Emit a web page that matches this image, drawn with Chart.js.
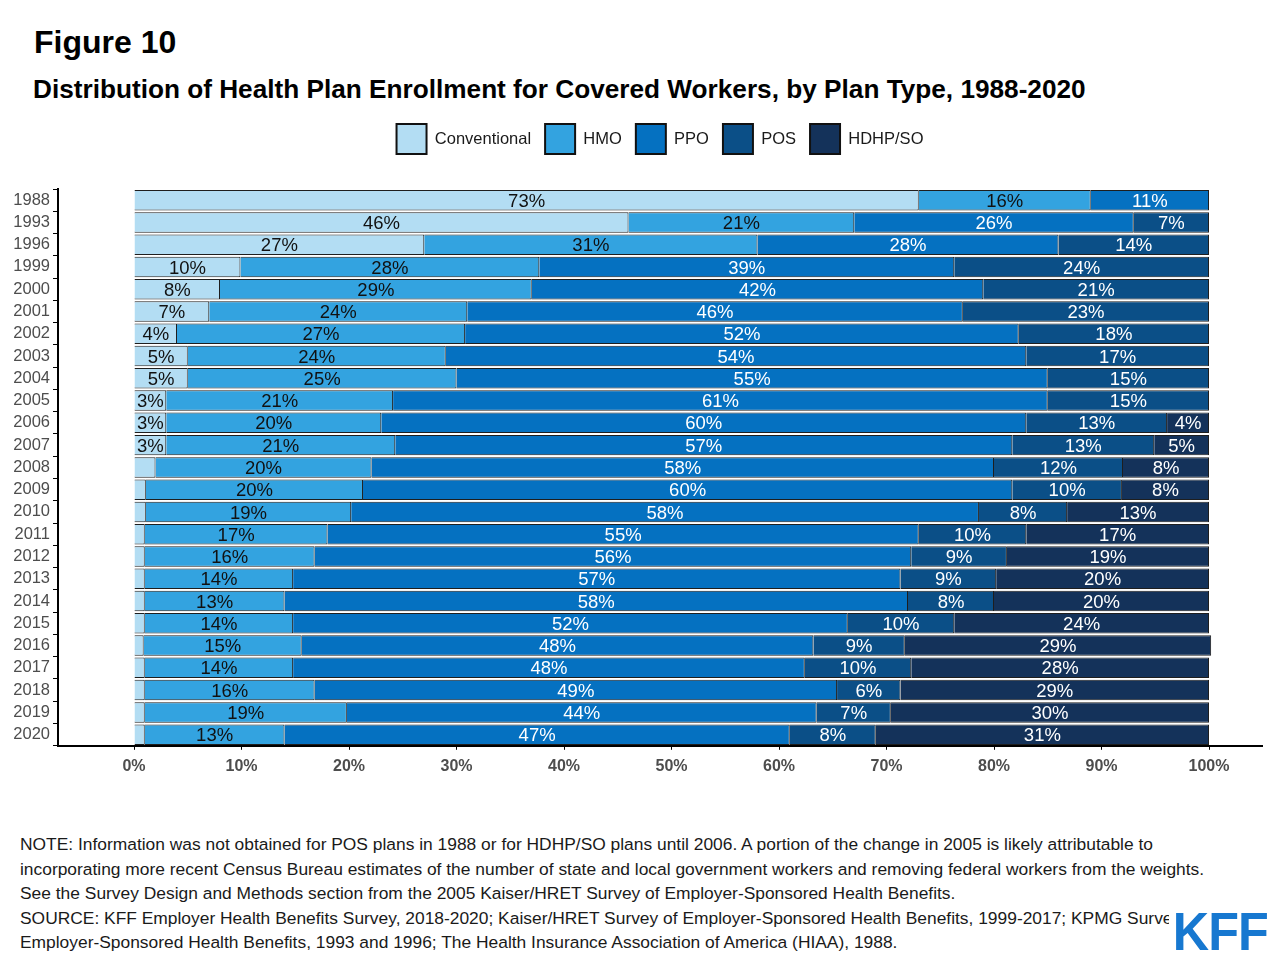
<!DOCTYPE html>
<html>
<head>
<meta charset="utf-8">
<script src="https://cdn.jsdelivr.net/npm/chart.js@4"></script>
<style>
  body { margin: 0; background: #fff; font-family: "Liberation Sans", Arial, sans-serif; }
  .page { position: relative; width: 1280px; height: 960px; overflow: hidden; }
  .fig { position: absolute; left: 34px; top: 24px; font-size: 32px; font-weight: bold; color: #000; }
  .sub { position: absolute; left: 33px; top: 74px; font-size: 26.2px; font-weight: bold; color: #000; }
  .chartBox { position: absolute; left: 0; top: 0; width: 1280px; height: 800px; }
  .note { position: absolute; left: 20px; top: 832px; font-size: 17.4px; line-height: 24.6px; color: #1a1a1a; white-space: nowrap; }
  .logo { position: absolute; left: 1169px; top: 905px; background: #fff; padding: 0 4px 6px 4px; font-family: "Liberation Sans", Arial, sans-serif; font-weight: bold; font-size: 53px; line-height: 53px; color: #1778d0; letter-spacing: -1px; transform: scaleX(0.95); transform-origin: left top; }
</style>
</head>
<body>
<div class="page">
  <div class="fig">Figure 10</div>
  <div class="sub">Distribution of Health Plan Enrollment for Covered Workers, by Plan Type, 1988-2020</div>
  <div class="chartBox"><canvas class="jsPlanChart"></canvas></div>
  <div class="note">
    NOTE: Information was not obtained for POS plans in 1988 or for HDHP/SO plans until 2006. A portion of the change in 2005 is likely attributable to<br>
    incorporating more recent Census Bureau estimates of the number of state and local government workers and removing federal workers from the weights.<br>
    See the Survey Design and Methods section from the 2005 Kaiser/HRET Survey of Employer-Sponsored Health Benefits.<br>
    SOURCE: KFF Employer Health Benefits Survey, 2018-2020; Kaiser/HRET Survey of Employer-Sponsored Health Benefits, 1999-2017; KPMG Survey of<br>
    Employer-Sponsored Health Benefits, 1993 and 1996; The Health Insurance Association of America (HIAA), 1988.
  </div>
  <div class="logo">KFF</div>
</div>
<script>
'use strict';

let years = ['1988', '1993', '1996', '1999', '2000', '2001', '2002', '2003', '2004', '2005', '2006', '2007', '2008',
  '2009', '2010', '2011', '2012', '2013', '2014', '2015', '2016', '2017', '2018', '2019', '2020'];

let conventional = [73, 46, 27, 9.9, 8, 7, 4, 5, 5, 3, 3, 3, 2, 1.1, 1.1, 1, 1, 1, 1, 1, 0.9, 1, 1, 1, 1];
let hmo = [16, 21, 31, 27.8, 29, 24, 26.8, 24, 25, 21.1, 20, 21.3, 20.1, 20.2, 19.1, 17, 15.8, 13.8, 13, 13.8, 14.7, 13.8, 15.8, 18.8, 13];
let ppo = [11, 26, 28, 38.6, 42, 46.1, 51.5, 54, 55, 60.9, 60, 57.4, 57.9, 60.4, 58.4, 55, 55.5, 56.5, 58, 51.6, 47.6, 47.6, 48.6, 43.7, 47];
let pos = [0, 7, 14, 23.7, 21, 22.9, 17.7, 17, 15, 15, 13.1, 13.2, 12, 10.2, 8.2, 10, 8.9, 8.9, 8, 9.9, 8.5, 9.9, 5.9, 6.9, 8];
let hdhp = [0, 0, 0, 0, 0, 0, 0, 0, 0, 0, 3.9, 5.1, 8, 8.1, 13.2, 17, 18.8, 19.8, 20, 23.7, 28.5, 27.7, 28.7, 29.6, 31];

let planNames = ['Conventional', 'HMO', 'PPO', 'POS', 'HDHP/SO'];
let planColors = ['#b3ddf3', '#33a3e0', '#0571c1', '#0b4f87', '#14325a'];
let labelColors = ['#111', '#111', '#fff', '#fff', '#fff'];
let xTicks = [0, 10, 20, 30, 40, 50, 60, 70, 80, 90, 100];

let segmentLabels = {
  id: 'segmentLabels',
  afterDatasetsDraw(chart) {
    let ctx = chart.ctx;
    ctx.save();
    ctx.font = '18.5px "Liberation Sans", Arial, sans-serif';
    ctx.textAlign = 'center';
    ctx.textBaseline = 'middle';
    chart.data.datasets.forEach((ds, i) => {
      let meta = chart.getDatasetMeta(i);
      meta.data.forEach((bar, j) => {
        let v = ds.data[j];
        if (v < 2.5) return;
        ctx.fillStyle = labelColors[i];
        ctx.fillText(Math.round(v) + '%', (bar.x + bar.base) / 2, bar.y + 1.5);
      });
    });
    ctx.restore();
  }
};

let legendGap = {
  id: 'legendGap',
  beforeInit(chart) {
    let fit = chart.legend.fit;
    chart.legend.fit = function () {
      fit.bind(chart.legend)();
      this.height += 25;
    };
  }
};

function _buildPlanChart() {
  let ctx = document.querySelector('.jsPlanChart'),
    series = [conventional, hmo, ppo, pos, hdhp];

  new Chart(ctx, {
    type: 'bar',
    data: {
      labels: years,
      datasets: series.map((data, i) => ({
        label: planNames[i],
        data: data,
        backgroundColor: planColors[i],
        borderColor: '#1e1e1e',
        borderWidth: 1,
        barPercentage: 0.92,
        categoryPercentage: 1
      }))
    },
    options: {
      indexAxis: 'y',
      responsive: true,
      maintainAspectRatio: false,
      animation: false,
      layout: {
        padding: {top: 110, left: 8, right: 18, bottom: 17}
      },
      scales: {
        x: {
          stacked: true,
          min: -7.07,
          max: 104.93,
          afterBuildTicks: scale => {
            scale.ticks = xTicks.map(v => ({value: v}));
          },
          grid: {drawOnChartArea: false, drawTicks: true, tickLength: 4, color: '#000'},
          border: {display: true, color: '#000', width: 2},
          ticks: {
            padding: 7,
            color: '#4d4d4d',
            font: {family: '"Liberation Sans", Arial, sans-serif', size: 16, weight: 'bold'},
            callback: v => v + '%'
          }
        },
        y: {
          stacked: true,
          afterFit: scale => {
            scale.width = 50;
          },
          grid: {drawOnChartArea: false, drawTicks: true, tickLength: 5, color: '#000'},
          border: {display: true, color: '#000', width: 2},
          ticks: {
            autoSkip: false,
            padding: 3,
            color: '#4d4d4d',
            font: {family: '"Liberation Sans", Arial, sans-serif', size: 16.5}
          }
        }
      },
      plugins: {
        legend: {
          display: true,
          position: 'top',
          fullSize: false,
          labels: {
            boxWidth: 30,
            boxHeight: 30,
            padding: 14,
            color: '#1a1a1a',
            font: {family: '"Liberation Sans", Arial, sans-serif', size: 16.5},
            generateLabels: chart => chart.data.datasets.map((ds, i) => ({
              text: ds.label,
              fillStyle: ds.backgroundColor,
              strokeStyle: '#111',
              lineWidth: 2,
              fontColor: '#1a1a1a',
              hidden: false,
              datasetIndex: i
            }))
          }
        },
        title: {display: false},
        tooltip: {enabled: false}
      }
    },
    plugins: [segmentLabels, legendGap]
  });
}

function buildCharts() {
  _buildPlanChart();
}

buildCharts();
</script>
</body>
</html>
